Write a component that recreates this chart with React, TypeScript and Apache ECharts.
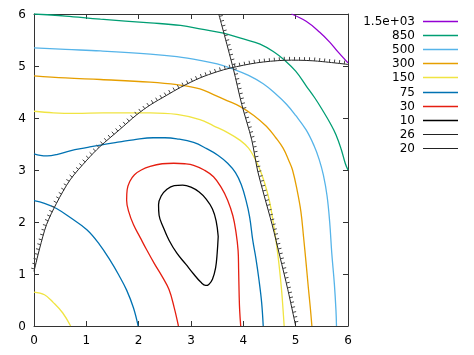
import React, { useEffect, useRef } from 'react';
import * as echarts from 'echarts';

const levelLabels = ['1.5e+03', '850', '500', '300', '150', '75', '30', '10', '26', '20'];
const xTicks = [0, 1, 2, 3, 4, 5, 6];

const c1500 = [[4.92, 6.0], [5.2, 5.86], [5.46, 5.65], [5.65, 5.46], [5.8, 5.28], [6.0, 5.06]];
const c850 = [[0, 6.0], [0.6, 5.96], [1.27, 5.9], [2.22, 5.83], [2.8, 5.78], [3.2, 5.71], [3.62, 5.63], [4.0, 5.52], [4.32, 5.42], [4.6, 5.26], [4.79, 5.11], [5.0, 4.9], [5.2, 4.62], [5.37, 4.38], [5.52, 4.14], [5.66, 3.9], [5.77, 3.68], [5.87, 3.4], [5.95, 3.12], [6.0, 3.0]];
const c500 = [[0, 5.35], [0.6, 5.32], [1.27, 5.29], [2.22, 5.23], [2.73, 5.18], [3.17, 5.11], [3.5, 5.04], [3.81, 4.94], [4.1, 4.82], [4.38, 4.66], [4.6, 4.48], [4.82, 4.27], [5.0, 4.05], [5.2, 3.77], [5.35, 3.47], [5.45, 3.2], [5.53, 2.9], [5.6, 2.5], [5.65, 2.0], [5.69, 1.4], [5.74, 0.8], [5.77, 0.3], [5.78, 0]];
const c300 = [[0, 4.81], [0.6, 4.77], [1.27, 4.74], [2.22, 4.69], [2.73, 4.64], [3.17, 4.56], [3.43, 4.45], [3.7, 4.33], [3.94, 4.22], [4.2, 4.05], [4.44, 3.84], [4.62, 3.62], [4.76, 3.42], [4.87, 3.18], [4.94, 3.0], [5.03, 2.6], [5.1, 2.2], [5.15, 1.72], [5.2, 1.2], [5.24, 0.76], [5.28, 0.35], [5.31, 0]];
const c150a = [[0, 4.13], [0.37, 4.1], [0.8, 4.09], [1.32, 4.1], [2.22, 4.1], [2.73, 4.07], [3.17, 3.97], [3.43, 3.85], [3.7, 3.72], [3.94, 3.57], [4.1, 3.42], [4.22, 3.22], [4.32, 3.0], [4.41, 2.74], [4.5, 2.4], [4.57, 2.0], [4.63, 1.6], [4.68, 1.2], [4.73, 0.7], [4.76, 0.3], [4.78, 0]];
const c150b = [[0, 0.65], [0.2, 0.6], [0.37, 0.45], [0.55, 0.25], [0.7, 0]];
const c75a = [[0, 3.31], [0.12, 3.28], [0.25, 3.27], [0.45, 3.3], [0.69, 3.37], [1.0, 3.43], [1.27, 3.48], [1.64, 3.54], [1.9, 3.58], [2.28, 3.62], [2.5, 3.62], [2.73, 3.6], [3.05, 3.53], [3.3, 3.41], [3.52, 3.28], [3.7, 3.13], [3.85, 2.95], [3.96, 2.72], [4.05, 2.42], [4.12, 2.1], [4.18, 1.65], [4.24, 1.3], [4.3, 0.88], [4.35, 0.45], [4.38, 0]];
const c75b = [[0, 2.41], [0.2, 2.36], [0.43, 2.26], [0.7, 2.08], [1.01, 1.85], [1.25, 1.57], [1.45, 1.27], [1.62, 0.98], [1.77, 0.69], [1.9, 0.35], [1.99, 0]];
const c30 = [[2.76, 0], [2.68, 0.35], [2.58, 0.7], [2.45, 0.95], [2.3, 1.2], [2.15, 1.47], [2.03, 1.7], [1.9, 1.95], [1.81, 2.2], [1.77, 2.42], [1.78, 2.62], [1.83, 2.78], [1.92, 2.91], [2.05, 3.0], [2.22, 3.07], [2.45, 3.12], [2.67, 3.13], [2.88, 3.12], [3.05, 3.09], [3.25, 3.0], [3.43, 2.87], [3.58, 2.66], [3.7, 2.42], [3.8, 2.12], [3.86, 1.8], [3.9, 1.45], [3.91, 1.08], [3.92, 0.6], [3.93, 0.3], [3.95, 0]];
const c10 = [[3.52, 1.72], [3.5, 1.4], [3.47, 1.12], [3.41, 0.9], [3.34, 0.8], [3.28, 0.78], [3.19, 0.84], [3.05, 1.0], [2.9, 1.19], [2.73, 1.4], [2.58, 1.65], [2.47, 1.9], [2.39, 2.13], [2.38, 2.33], [2.43, 2.5], [2.54, 2.63], [2.68, 2.7], [2.84, 2.71], [3.0, 2.67], [3.15, 2.58], [3.29, 2.44], [3.41, 2.25], [3.48, 2.02], [3.52, 1.72]];
const c26 = [[0, 1.05], [0.11, 1.5], [0.24, 1.95], [0.43, 2.36], [0.69, 2.81], [1.01, 3.19], [1.26, 3.45], [1.64, 3.78], [1.96, 4.06], [2.22, 4.25], [2.54, 4.44], [2.8, 4.59], [3.17, 4.77], [3.5, 4.89], [3.75, 4.96], [4.25, 5.06], [4.79, 5.11], [5.33, 5.1], [6.0, 5.03]];
const c20 = [[3.53, 6.0], [3.81, 4.94], [3.97, 4.26], [4.16, 3.58], [4.27, 3.0], [4.4, 2.5], [4.55, 1.95], [4.7, 1.33], [4.85, 0.7], [5.0, 0]];

const colors = ['#9400d3', '#009e73', '#56b4e9', '#e69f00', '#f0e442', '#0072b2', '#e51e10', '#000000', '#222222', '#222222'];
const widths = [1.3, 1.3, 1.3, 1.3, 1.3, 1.3, 1.3, 1.3, 1, 1];

export default function App() {
  const ref = useRef<HTMLDivElement>(null);
  useEffect(() => {
    const chart = echarts.init(ref.current!, null, { renderer: 'svg' });
    const font = '"DejaVu Sans", sans-serif';

    const line = (name: string, data: number[][], idx: number) => ({
      type: 'line', name, data, showSymbol: false, symbol: 'none', smooth: 0.4,
      lineStyle: { color: colors[idx], width: widths[idx] }, silent: true, z: 2,
    });

    const hatch = (name: string, data: number[][], idx: number) => ({
      type: 'custom', name, data, silent: true, z: 3, clip: false,
      encode: { x: 0, y: 1 },
      renderItem: (params: any, api: any) => {
        if (params.dataIndex !== 0) return null;
        const pts = data.map((p) => api.coord(p));
        const children: any[] = [{
          type: 'polyline', shape: { points: pts, smooth: 0.3 },
          style: { stroke: colors[idx], lineWidth: widths[idx], fill: null },
        }];
        const spacing = 5, len = 3.5;
        let acc = spacing / 2;
        for (let i = 0; i < pts.length - 1; i++) {
          const [x0, y0] = pts[i];
          const [x1, y1] = pts[i + 1];
          const dx = x1 - x0, dy = y1 - y0, L = Math.hypot(dx, dy);
          const ux = dx / L, uy = dy / L, nx = uy, ny = -ux;
          let t = acc;
          while (t <= L) {
            const px = x0 + ux * t, py = y0 + uy * t;
            children.push({ type: 'line', shape: { x1: px, y1: py, x2: px + nx * len, y2: py + ny * len }, style: { stroke: '#444', lineWidth: 1 } });
            t += spacing;
          }
          acc = t - L;
        }
        return { type: 'group', children };
      },
    });

    const axisCommon = {
      type: 'value', min: 0, max: 6, interval: 1,
      axisLine: { show: true, onZero: false, lineStyle: { color: '#333', width: 1 } },
      axisTick: { show: true, inside: true, length: 5, lineStyle: { color: '#333' } },
      splitLine: { show: false },
    };
    const label = { color: '#000', fontSize: 12, fontFamily: font, formatter: (v: number) => (xTicks.includes(v) ? String(v) : '') };

    const legendTop = 21, legendStep = 14.1;
    const graphic: any[] = [];
    levelLabels.forEach((lab, i) => {
      const y = legendTop + i * legendStep;
      const ly = Math.round(y) + 0.5;
      graphic.push({ type: 'text', x: 415, y, style: { text: lab, textAlign: 'right', textVerticalAlign: 'middle', font: `12px ${font}`, fill: '#000' } });
      graphic.push({ type: 'line', shape: { x1: 423, y1: ly, x2: 458, y2: ly }, style: { stroke: colors[i], lineWidth: widths[i] } });
    });

    chart.setOption({
      animation: false,
      grid: { left: 34, top: 14, width: 314, height: 312 },
      xAxis: [
        { ...axisCommon, position: 'bottom', axisLabel: { ...label, margin: 8 } },
        { ...axisCommon, position: 'top', axisLabel: { show: false } },
      ],
      yAxis: [
        { ...axisCommon, position: 'left', axisLabel: { ...label, margin: 8 } },
        { ...axisCommon, position: 'right', axisLabel: { show: false } },
      ],
      graphic,
      series: [
        line(levelLabels[0], c1500, 0),
        line(levelLabels[1], c850, 1),
        line(levelLabels[2], c500, 2),
        line(levelLabels[3], c300, 3),
        line(levelLabels[4], c150a, 4),
        line(levelLabels[4], c150b, 4),
        line(levelLabels[5], c75a, 5),
        line(levelLabels[5], c75b, 5),
        line(levelLabels[6], c30, 6),
        line(levelLabels[7], c10, 7),
        hatch(levelLabels[8], c26, 8),
        hatch(levelLabels[9], c20, 9),
      ],
    });
    return () => chart.dispose();
  }, []);
  return <div ref={ref} style={{ position: 'fixed', left: 0, top: 0, width: 474, height: 355 }} />;
}
